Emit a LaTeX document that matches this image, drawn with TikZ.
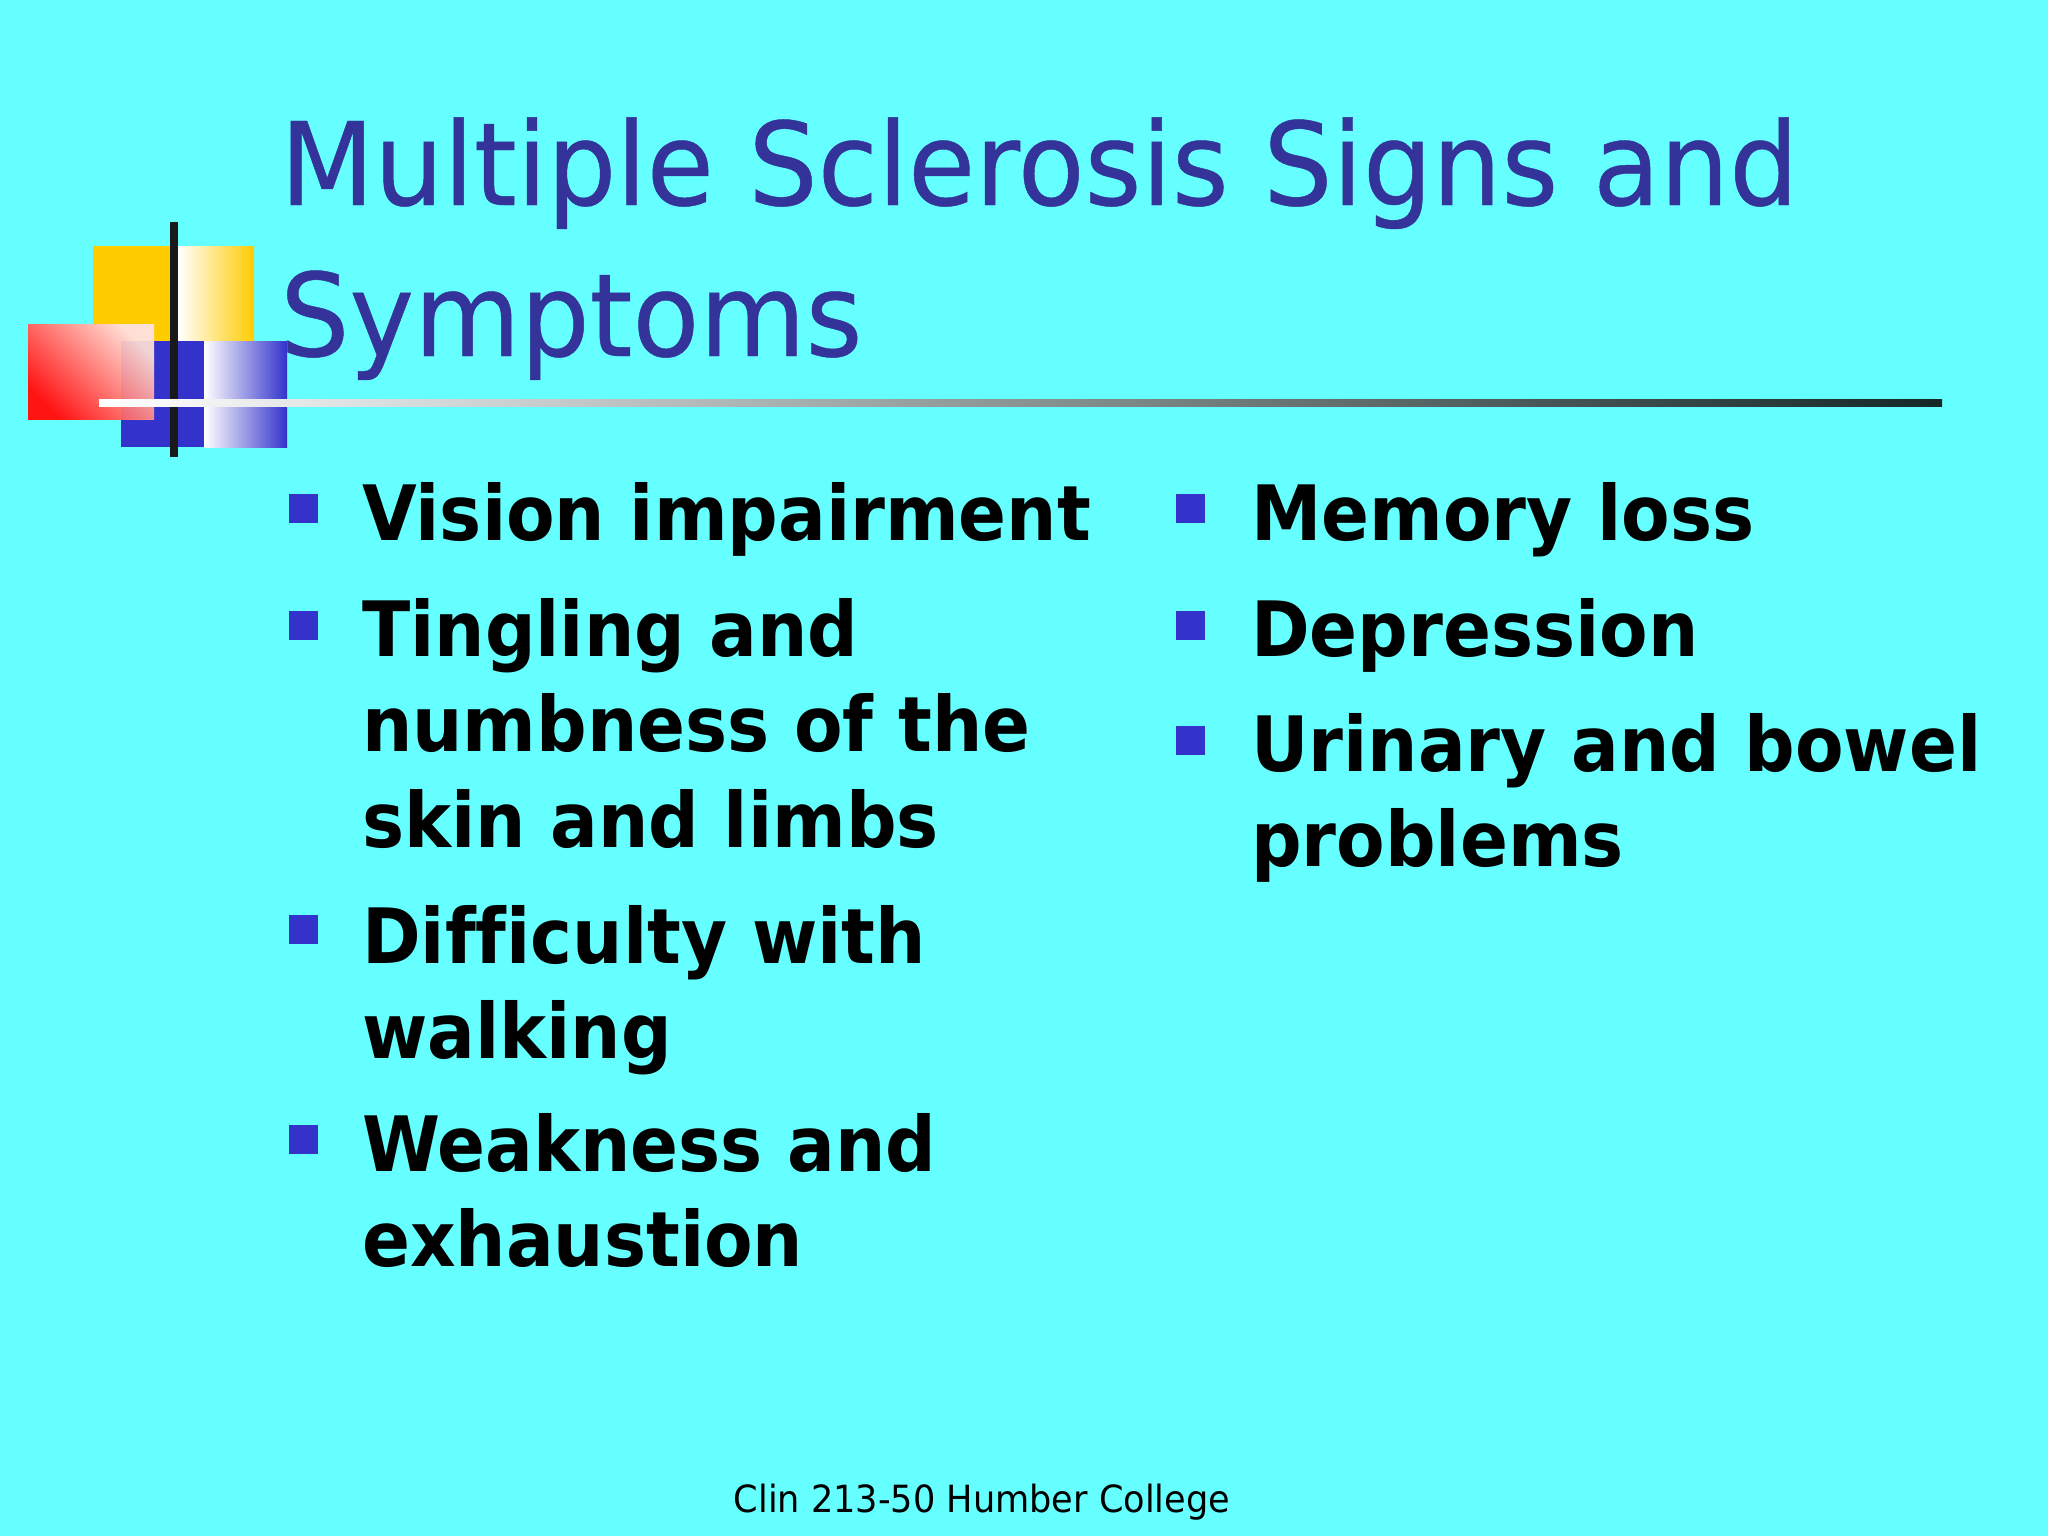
\documentclass[tikz,border=0pt]{standalone}
\usepackage{fontspec}
\setmainfont{DejaVu Sans}
\newfontfamily\titlefont[FakeStretch=0.947,FakeBold=0.4]{DejaVu Sans}
\newfontfamily\bodyfont[FakeStretch=0.926,Ligatures=NoCommon]{DejaVu Sans}
\newfontfamily\footfont[FakeStretch=0.937]{DejaVu Sans}
\definecolor{bgc}{RGB}{102,255,255}
\definecolor{titlec}{RGB}{51,51,153}
\definecolor{bulc}{RGB}{51,51,204}
\definecolor{goldc}{RGB}{255,204,0}
\definecolor{paler}{RGB}{255,224,214}
\definecolor{midr}{RGB}{255,150,145}
\definecolor{redc}{RGB}{255,20,20}
\definecolor{barend}{RGB}{20,40,40}
\tikzset{
 px/.style={x=0.0375cm,y=-0.0375cm},
 titletext/.style={anchor=base west,inner sep=0,font=\titlefont\fontsize{123}{123}\selectfont,text=titlec},
 bodytext/.style={anchor=base west,inner sep=0,font=\bodyfont\fontsize{81.5}{81.5}\selectfont\bfseries,text=black},
 footer/.style={anchor=base,inner sep=0,font=\footfont\fontsize{40}{40}\selectfont,text=black},
 bul/.style={fill=bulc,draw=none}
}
\begin{document}
\begin{tikzpicture}[px]
\useasboundingbox (0,0) rectangle (2048,1536);
\fill[bgc] (0,0) rectangle (2048,1536);
% logo
\fill[goldc] (93,246) rectangle (178,341);
\shade[left color=white,right color=goldc] (178,246) rectangle (254,341);
\fill[bulc] (121,341) rectangle (204,447);
\shade[left color=white,right color=bulc] (204,341) rectangle (287,447);
\shade[left color=redc,middle color=midr,right color=paler,shading angle=135] (28,324) rectangle (154,419);
\fill[bulc,opacity=0.07] (121,341) rectangle (154,419);
\fill[black!90] (170,222) rectangle (178,457);
\shade[left color=white,right color=barend] (99,399) rectangle (1942,406);
% title
\node[titletext] (t1) at (280,205) {Multiple Sclerosis Signs and};
\node[titletext] (t2) at (280,356) {Symptoms};
% bullets
\foreach \y in {523,640,944,1154}{\fill[bul] (289,\y-29) rectangle (318,\y);}
\foreach \y in {523,640,755}{\fill[bul] (1176,\y-29) rectangle (1205,\y);}
\node[bodytext] (a1) at (362,540) {Vision impairment};
\node[bodytext] (a2) at (362,656) {Tingling and};
\node[bodytext] (a3) at (362,751) {numbness of the};
\node[bodytext] (a4) at (362,847) {skin and limbs};
\node[bodytext] (a5) at (362,963) {Difficulty with};
\node[bodytext] (a6) at (362,1058) {walking};
\node[bodytext] (a7) at (362,1171) {Weakness and};
\node[bodytext] (a8) at (362,1266) {exhaustion};
\node[bodytext] (c1) at (1251,540) {Memory loss};
\node[bodytext] (c2) at (1251,656) {Depression};
\node[bodytext] (c3) at (1251,771) {Urinary and bowel};
\node[bodytext] (c4) at (1251,866) {problems};
\node[footer] (f) at (982,1512) {Clin 213-50 Humber College};
\end{tikzpicture}
\end{document}
